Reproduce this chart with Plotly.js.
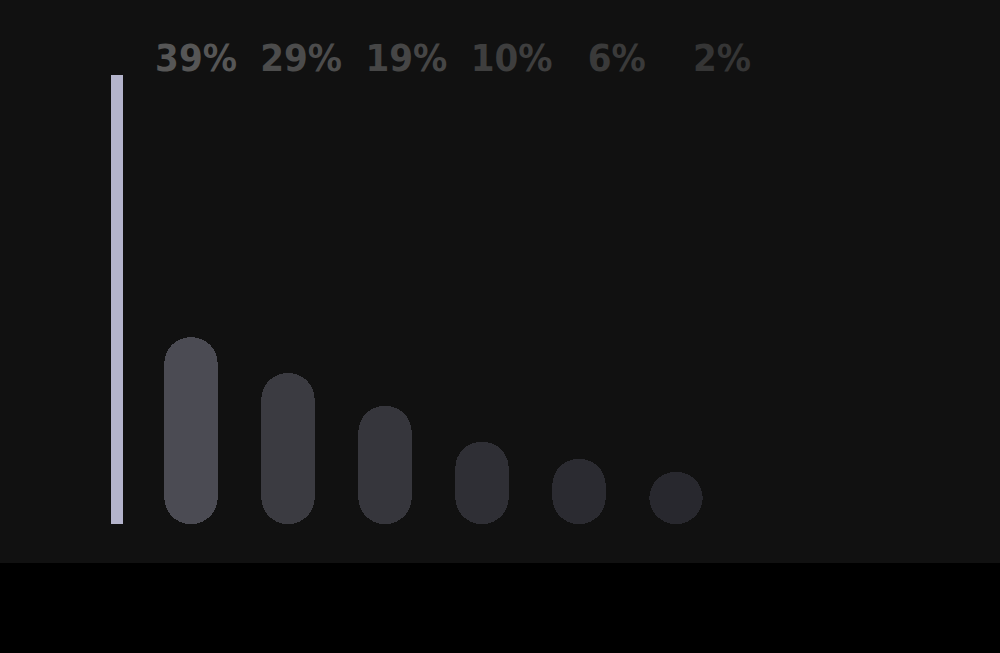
<!DOCTYPE html>
<html>
<head>
<meta charset="utf-8">
<script src="https://cdn.plot.ly/plotly-3.0.1.min.js"></script>
<style>html,body{margin:0;padding:0;background:#111111;}#chart{width:1000px;height:653px;}</style>
</head>
<body>
<div id="chart"></div>
<script>
// Data
var categories = ['A', 'B', 'C', 'D', 'E', 'F'];
var percentLabels = ['39%', '29%', '19%', '10%', '6%', '2%'];
var barLevels = [41.6, 33.6, 26.3, 18.3, 14.5, 11.6];   // bar heights, axis units (0-100)
var barColors = ['#4b4b53', '#3b3b41', '#36363c', '#2f2f35', '#2b2b31', '#28282e'];
var labelColors = ['#565656', '#4c4c4c', '#464646', '#3e3e3e', '#3a3a3a', '#353535'];

var idx = categories.map(function (c, i) { return i; });

var bars = {
  type: 'bar', x: idx, y: barLevels, base: barLevels.map(function () { return 0; }), width: 0.55,
  marker: { color: barColors, line: { width: 0 }, cornerradius: '50%' },
  hoverinfo: 'skip', showlegend: false
};

var labels = {
  type: 'scatter', mode: 'text', x: idx, y: idx.map(function () { return 0.24; }),
  xaxis: 'x2', yaxis: 'y2', text: percentLabels, cliponaxis: false,
  textfont: { family: '"DejaVu Sans Condensed", "DejaVu Sans", sans-serif', size: 38, weight: 'bold', color: labelColors },
  hoverinfo: 'skip', showlegend: false
};

var hidden = { showgrid: false, zeroline: false, showticklabels: false, ticks: '', showline: false };
var layout = {
  width: 1000, height: 653,
  margin: { l: 123, r: 100, t: 20, b: 129 },
  paper_bgcolor: '#111111', plot_bgcolor: '#111111',
  barmode: 'overlay', bargap: 0,
  xaxis: Object.assign({ range: [-0.701, 7.309], anchor: 'y' }, hidden),
  yaxis: Object.assign({}, hidden, { range: [0, 100], domain: [0, 0.8909], anchor: 'x',
           showline: true, linecolor: '#b4b4cc', linewidth: 12 }),
  xaxis2: Object.assign({ range: [-0.694, 6.692], anchor: 'y2' }, hidden),
  yaxis2: Object.assign({ range: [0, 1], domain: [0.8909, 1], anchor: 'x2' }, hidden),
  shapes: [{ type: 'rect', xref: 'paper', yref: 'paper', x0: -0.5, x1: 1.5, y0: -0.4, y1: -0.0774,
             fillcolor: '#000000', line: { width: 0 }, layer: 'below' }]
};

Plotly.newPlot('chart', [bars, labels], layout, { staticPlot: true, displayModeBar: false });
</script>
</body>
</html>
